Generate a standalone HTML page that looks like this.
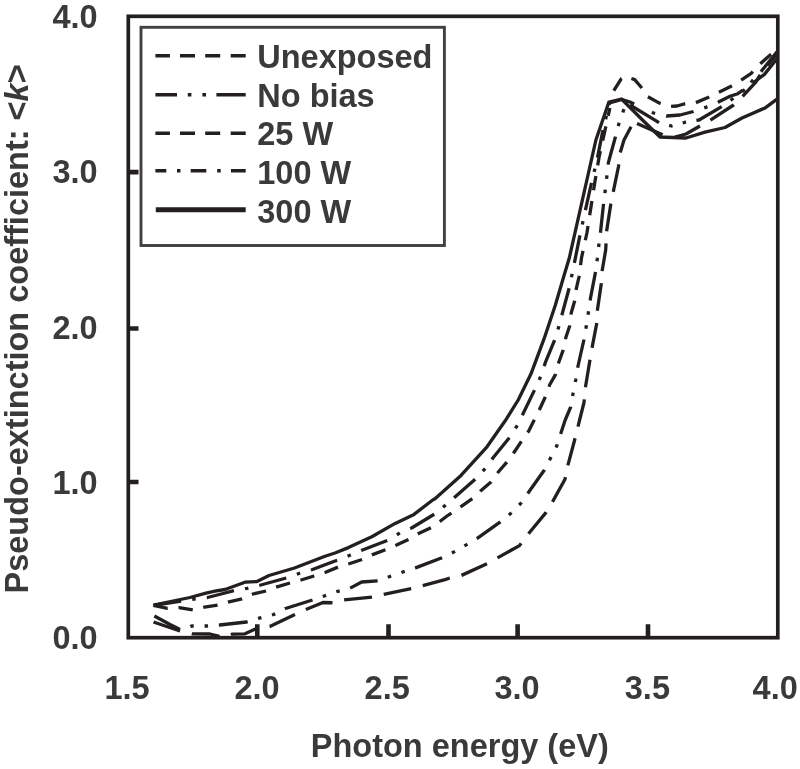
<!DOCTYPE html>
<html lang="en"><head><meta charset="utf-8"><title>Pseudo-extinction coefficient vs photon energy</title>
<style>
html,body{margin:0;padding:0;background:#fff;}
body{width:800px;height:769px;overflow:hidden;}
svg{display:block;}
text{font-family:"Liberation Sans",sans-serif;font-weight:bold;font-size:32.5px;fill:#3a3a3a;}
.c{fill:none;stroke:#231f20;stroke-width:3.3;stroke-linejoin:round;}
</style></head><body>
<svg width="800" height="769" viewBox="0 0 800 769">
<rect width="800" height="769" fill="#fff"/>
<g id="curves">
<polyline class="c" points="153.5,622.0 180.0,631.0 192.0,633.8 210.0,634.0 220.0,636.5 226.0,637.0 232.0,634.2 245.0,633.8 255.5,629.0 269.8,626.5 295.2,614.5 306.5,609.2 323.0,602.5 333.5,602.8 343.7,599.9 372.6,597.0 383.5,594.4 411.6,588.6 421.8,585.8 445.0,579.6 449.3,578.2 461.0,575.6 487.0,563.8 496.1,558.6 519.5,545.6 527.3,535.2 545.5,513.1 552.0,502.7 565.0,479.3 567.6,466.3 574.9,439.0 579.6,420.0 584.0,402.5 585.1,389.3 589.5,362.7 591.7,349.5 596.8,323.0" stroke-dasharray="28 12.05" stroke-dashoffset="0"/>
<polyline class="c" points="597.3,310.8 601.2,284.3 602.1,271.0 605.7,250.0 606.0,244.5 606.5,232.0 610.7,204.7 613.0,193.0 618.5,166.5 619.8,154.0 624.0,140.0 630.0,128.8 634.0,121.5" stroke-dasharray="28 12.05" stroke-dashoffset="0"/>
<polyline class="c" points="637.0,123.5 663.0,135.0 675.0,137.0 686.0,134.0 700.0,126.0 710.2,120.2 733.6,105.0 742.1,97.0 755.8,82.2 761.3,73.2 777.0,53.6" stroke-dasharray="28 12.05" stroke-dashoffset="0"/>
<polyline class="c" points="153.5,615.5 170.0,624.5 180.0,629.6 186.0,628.5 191.8,626.0 206.5,626.0 219.5,625.0 246.5,622.0 259.2,618.2 273.5,614.5 285.5,608.5 312.5,600.0 325.0,595.8 337.8,591.3 350.0,588.2 361.7,582.0 378.0,580.8 389.8,576.5 403.5,571.8 415.5,567.9 442.0,557.7 453.7,552.1 466.2,544.9 477.9,537.8 500.0,522.2 510.4,513.7 520.8,503.3 528.6,492.3 544.2,470.2 550.7,457.7 556.7,446.0 561.1,432.5 565.2,420.0 570.7,407.0 573.0,393.7 575.8,379.3 578.0,366.0 584.0,339.5 586.2,326.9 588.4,312.3 590.6,297.5 595.5,272.1 597.3,258.8 599.0,243.7 600.6,231.3 603.7,202.4 605.2,190.7 606.8,176.7 608.4,162.6 611.0,153.0 614.6,140.0 619.0,123.3 623.4,110.8 624.0,109.2" stroke-dasharray="29 10.85 3.5 10.85 3.5 10.85" stroke-dashoffset="-1"/>
<polyline class="c" points="630.0,105.0 659.5,123.0 671.5,126.0 685.5,122.2 699.0,120.0 722.5,106.2 733.0,98.5 745.0,89.5 755.0,81.5 764.4,74.4 777.0,58.8" stroke-dasharray="34 10.5 3.5 10.5 3.5 10.5 29 10.85 3.5 10.85 3.5 10.85" stroke-dashoffset="0"/>
<polyline class="c" points="153.5,605.5 167.5,608.4 179.0,607.6 193.0,610.0 204.5,607.2 218.5,605.0 229.0,601.8 242.0,598.8 253.0,594.0 266.0,591.0 277.0,586.8 290.0,583.0 301.0,580.0 314.0,576.0 325.0,572.5 338.3,567.0 348.4,564.0 362.5,559.3 372.6,554.6 385.9,549.6 396.0,545.3 409.3,539.0 418.6,533.5 431.9,527.3 440.5,521.0 447.0,516.0 461.0,506.6 474.0,497.5 480.5,491.0 491.0,482.0 498.7,471.5 507.8,461.0 514.3,452.0 522.1,440.3 528.6,431.2 535.1,418.2 539.5,409.5 545.3,397.0 549.7,384.8 555.3,374.9 558.6,362.7 563.0,350.6 565.9,337.3 569.6,326.3 571.2,313.0 574.7,300.8 576.3,288.7 579.1,276.5 581.5,257.8 587.0,232.5 590.9,207.5 594.8,182.5 599.0,157.5 609.9,108.0" stroke-dasharray="14.5 10.8" stroke-dashoffset="0"/>
<polyline class="c" points="613.8,90.6 621.2,78.8 625.0,76.2 629.0,77.6 634.7,79.6 641.0,87.0 646.9,96.2 659.4,103.1 670.0,106.5 677.0,106.0 684.0,104.0 695.0,103.0 708.0,97.5 717.8,92.7 730.1,86.8 740.0,81.0 751.2,73.4 759.4,64.6 769.9,55.2 777.0,50.5" stroke-dasharray="14.5 10.8" stroke-dashoffset="0"/>
<polyline class="c" points="153.5,605.5 165.0,603.5 194.0,599.0 207.5,597.5 225.0,593.0 234.5,590.5 247.3,588.3 260.8,585.0 287.0,577.8 299.8,573.2 312.5,569.5 335.0,561.0 338.3,560.0 350.4,555.0 362.5,550.0 389.0,539.8 400.0,532.8 411.6,528.0 435.8,513.3 445.4,505.3 455.8,496.2 476.6,478.0 485.2,468.4 493.5,457.2 510.4,436.4 517.7,424.7 523.4,413.0 535.4,388.2 540.9,376.0 545.3,362.7 555.3,338.4 559.2,325.2 563.0,310.8 569.6,286.5 572.5,272.1 575.2,258.8 580.3,233.6 585.0,212.0 591.0,185.0 597.0,160.0 603.0,130.0 609.5,103.0 622.0,99.5 630.0,102.0 642.0,107.5" stroke-dasharray="28 11.2 3.5 11.2" stroke-dashoffset="0"/>
<polyline class="c" points="651.9,112.2 653.5,113.0 666.5,116.0 680.0,115.0 693.5,111.5 705.6,107.4 718.4,102.0 730.0,96.3 737.8,93.7 745.6,88.4 751.9,81.4 755.8,76.7 761.3,71.2 777.0,51.7" stroke-dasharray="3.5 11.2 28 11.2" stroke-dashoffset="0"/>
<polyline class="c" points="153.5,605.0 190.0,597.5 206.0,593.2 215.0,591.2 225.0,589.5 245.0,582.2 257.0,581.5 269.0,575.5 294.5,568.0 325.0,556.2 335.0,553.0 348.4,547.6 371.8,536.7 395.2,523.4 414.0,514.4 432.7,500.0 435.0,498.8 461.0,475.4 487.0,446.8 505.2,420.8 518.2,400.0 531.0,373.8 544.2,338.4 555.3,305.3 563.6,277.0 569.3,258.0 595.9,140.0 600.0,128.0 608.9,102.0 621.5,99.0 642.5,120.0 660.0,137.0 686.0,138.0 705.0,132.2 725.0,127.5 742.0,118.0 765.2,107.9 777.0,99.1"/>
</g>
<rect x="128.3" y="16.3" width="649.5" height="621.4" fill="none" stroke="#231f20" stroke-width="3.7"/>
<path d="M128.3 482.0H138.5M128.3 328.5H138.5M128.3 172.1H138.5M257.3 637.7V624.2M388.5 637.7V624.2M517.6 637.7V624.2M648.0 637.7V624.2" fill="none" stroke="#231f20" stroke-width="4.6"/>
<text x="97.6" y="649.3" text-anchor="end">0.0</text>
<text x="97.6" y="494.0" text-anchor="end">1.0</text>
<text x="97.6" y="338.6" text-anchor="end">2.0</text>
<text x="97.6" y="183.2" text-anchor="end">3.0</text>
<text x="97.6" y="27.9" text-anchor="end">4.0</text>
<text x="127.1" y="699.2" text-anchor="middle">1.5</text>
<text x="257.0" y="699.2" text-anchor="middle">2.0</text>
<text x="387.2" y="699.2" text-anchor="middle">2.5</text>
<text x="517.0" y="699.2" text-anchor="middle">3.0</text>
<text x="647.4" y="699.2" text-anchor="middle">3.5</text>
<text x="797.8" y="699.2" text-anchor="end">4.0</text>
<text x="459.8" y="757.4" text-anchor="middle">Photon energy (eV)</text>
<text transform="translate(27.6 593.5) rotate(-90)">Pseudo-extinction coefficient: &lt;<tspan font-style="italic">k</tspan>&gt;</text>
<rect x="141.0" y="27.3" width="303.4" height="218.2" fill="#fff" stroke="#414042" stroke-width="2.9"/>
<path d="M155.4 55.7H169.9M180.0 55.7H195.0M205.2 55.7H220.2M230.7 55.7H245.7M155.4 133.2H169.9M180.0 133.2H195.0M205.2 133.2H220.2M230.7 133.2H245.7M155.4 94.7H177.0M187.8 94.7H191.4M202.4 94.7H206.0M216.4 94.7H245.7M155.4 170.8H166.3M177.0 170.8H180.5M190.7 170.8H206.3M217.2 170.8H220.7M231.0 170.8H245.7" fill="none" stroke="#231f20" stroke-width="3.4"/>
<path d="M155.8 209.7H245.7" fill="none" stroke="#231f20" stroke-width="5"/>
<text x="257.3" y="67.5">Unexposed</text>
<text x="257.3" y="107.0">No bias</text>
<text x="257.3" y="145.0">25 W</text>
<text x="257.3" y="184.2">100 W</text>
<text x="257.3" y="223.0">300 W</text>
</svg>
</body></html>
